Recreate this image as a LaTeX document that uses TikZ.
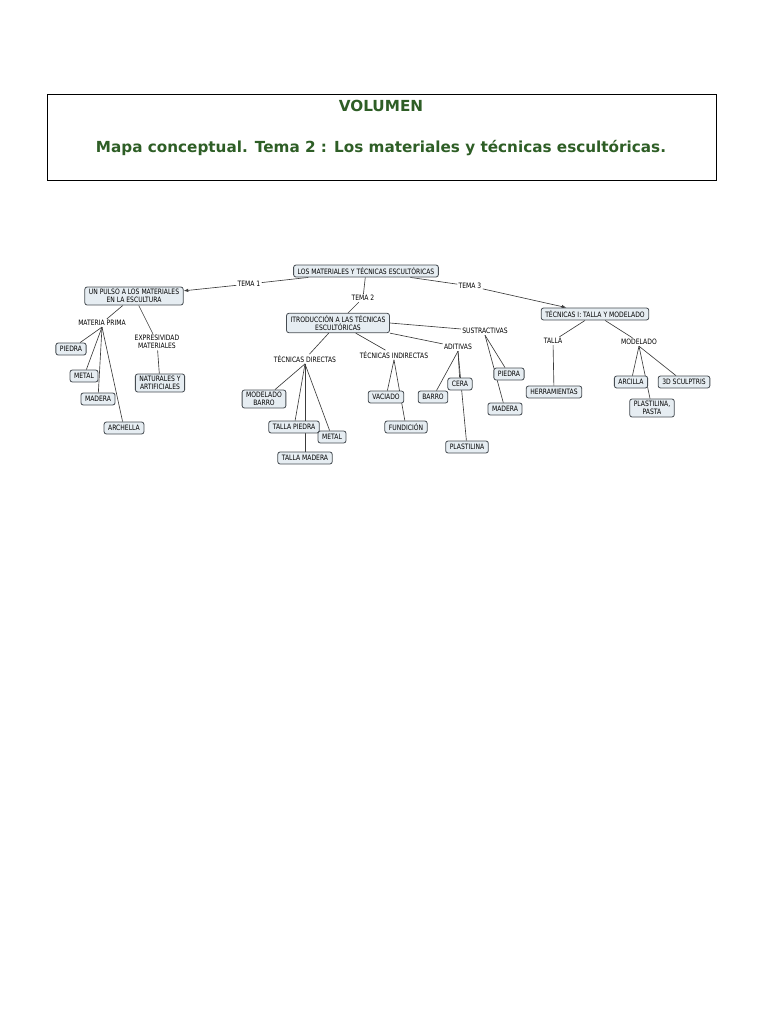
\documentclass[tikz,border=0pt]{standalone}
\usepackage{fontspec}
\setmainfont{DejaVu Sans}
\newfontfamily\mapfont[FakeStretch=0.82]{DejaVu Sans}
\usetikzlibrary{arrows.meta, backgrounds}
\definecolor{titlegreen}{RGB}{46,94,38}
\definecolor{boxfill}{RGB}{230,237,242}
\definecolor{boxline}{RGB}{70,76,82}
\definecolor{linkgray}{RGB}{60,60,60}

\begin{document}
\begin{tikzpicture}[
        x=0.03cm, y=-0.03cm,
        every node/.style={font=\mapfont\fontsize{6.3}{7}\selectfont},
        box/.style={rectangle, draw=boxline, fill=boxfill, rounded corners=2pt, inner xsep=3.5pt, inner ysep=1.8pt, minimum height=0.36cm, align=center, line width=0.7pt},
        link/.style={inner sep=1pt, align=center},
        con/.style={draw=linkgray, line width=0.55pt},
        title/.style={text=titlegreen, font=\bfseries\fontsize{13}{15}\selectfont}
    ]
        \useasboundingbox (0,0) rectangle (768,1024);

        % heading
        \node[draw, line width=0.8pt, minimum width=20.07cm, minimum height=2.58cm] (frame) at (381.5,137) {};
        \node[title] (volumen) at (381,106) {VOLUMEN};
        \node[title] (subtitle) at (381,148) {Mapa conceptual. Tema 2 : Los materiales y técnicas escultóricas.};

        % main concepts
        \node[box] (root) at (366,271) {LOS MATERIALES Y TÉCNICAS ESCULTÓRICAS};
        \node[box] (pulso) at (134,296) {UN PULSO A LOS MATERIALES\\EN LA ESCULTURA};
        \node[box] (intro) at (338,323) {ITRODUCCIÓN A LAS TÉCNICAS\\ESCULTÓRICAS};
        \node[box] (tecnicas) at (595,314) {TÉCNICAS I:\ TALLA Y MODELADO};

        \node[link] (tema1) at (249,284) {TEMA 1};
        \node[link] (tema2) at (363,298) {TEMA 2};
        \node[link] (tema3) at (470,286) {TEMA 3};

        % tema 1
        \node[link] (materia) at (102,323) {MATERIA PRIMA};
        \node[link] (expresiv) at (157,342) {EXPRESIVIDAD\\MATERIALES};
        \node[box] (piedraA) at (71,349) {PIEDRA};
        \node[box] (metalA) at (84,376) {METAL};
        \node[box] (maderaA) at (98,399) {MADERA};
        \node[box] (archella) at (124,428) {ARCHELLA};
        \node[box] (naturales) at (160,383) {NATURALES Y\\ARTIFICIALES};

        % tema 2
        \node[link] (directas) at (305,359) {TÉCNICAS DIRECTAS};
        \node[link] (indirectas) at (394,355) {TÉCNICAS INDIRECTAS};
        \node[link] (aditivas) at (458,347) {ADITIVAS};
        \node[link] (sustract) at (485,331) {SUSTRACTIVAS};
        \node[box] (modelado) at (264,399) {MODELADO\\BARRO};
        \node[box] (tpiedra) at (294,427) {TALLA PIEDRA};
        \node[box] (metalB) at (332,437) {METAL};
        \node[box] (tmadera) at (305,458) {TALLA MADERA};
        \node[box] (vaciado) at (386,397) {VACIADO};
        \node[box] (fundicion) at (406,427) {FUNDICIÓN};
        \node[box] (barro) at (433,397) {BARRO};
        \node[box] (cera) at (460,384) {CERA};
        \node[box] (plastilina) at (467,447) {PLASTILINA};
        \node[box] (piedraB) at (509,374) {PIEDRA};
        \node[box] (maderaB) at (505,409) {MADERA};

        % tema 3
        \node[link] (talla) at (553,341) {TALLA};
        \node[link] (modeladoL) at (639,342) {MODELADO};
        \node[box] (herram) at (554,392) {HERRAMIENTAS};
        \node[box] (arcilla) at (631,382) {ARCILLA};
        \node[box] (sculptris) at (684,382) {3D SCULPTRIS};
        \node[box] (pasta) at (652,408) {PLASTILINA,\\PASTA};

        \begin{scope}[on background layer]
            \draw[con] (root) -- (tema1);
            \draw[con, -{Latex[length=4pt, width=3pt]}] (tema1) -- (pulso);
            \draw[con] (root) -- (tema2);
            \draw[con] (tema2) -- (intro);
            \draw[con] (root) -- (tema3);
            \draw[con, -{Latex[length=4pt, width=3pt]}] (tema3) -- (tecnicas);

            \draw[con] (pulso) -- (materia);
            \draw[con] (pulso) -- (expresiv);
            \draw[con] (materia.south) -- (piedraA);
            \draw[con] (materia.south) -- (metalA);
            \draw[con] (materia.south) -- (maderaA);
            \draw[con] (materia.south) -- (archella);
            \draw[con] (expresiv) -- (naturales);

            \draw[con] (intro) -- (directas);
            \draw[con] (intro) -- (indirectas);
            \draw[con] (intro.south east) -- (aditivas);
            \draw[con] (intro.east) -- (sustract);
            \draw[con] (directas.south) -- (modelado);
            \draw[con] (directas.south) -- (tpiedra);
            \draw[con] (directas.south) -- (tmadera);
            \draw[con] (directas.south) -- (metalB);
            \draw[con] (indirectas.south) -- (vaciado);
            \draw[con] (indirectas.south) -- (fundicion);
            \draw[con] (aditivas.south) -- (barro);
            \draw[con] (aditivas.south) -- (cera);
            \draw[con] (aditivas.south) -- (plastilina);
            \draw[con] (sustract.south) -- (piedraB);
            \draw[con] (sustract.south) -- (maderaB);

            \draw[con] (tecnicas) -- (talla);
            \draw[con] (tecnicas) -- (modeladoL);
            \draw[con] (talla) -- (herram);
            \draw[con] (modeladoL.south) -- (arcilla);
            \draw[con] (modeladoL.south) -- (pasta);
            \draw[con] (modeladoL.south) -- (sculptris);
        \end{scope}
    \end{tikzpicture}
\end{document}
